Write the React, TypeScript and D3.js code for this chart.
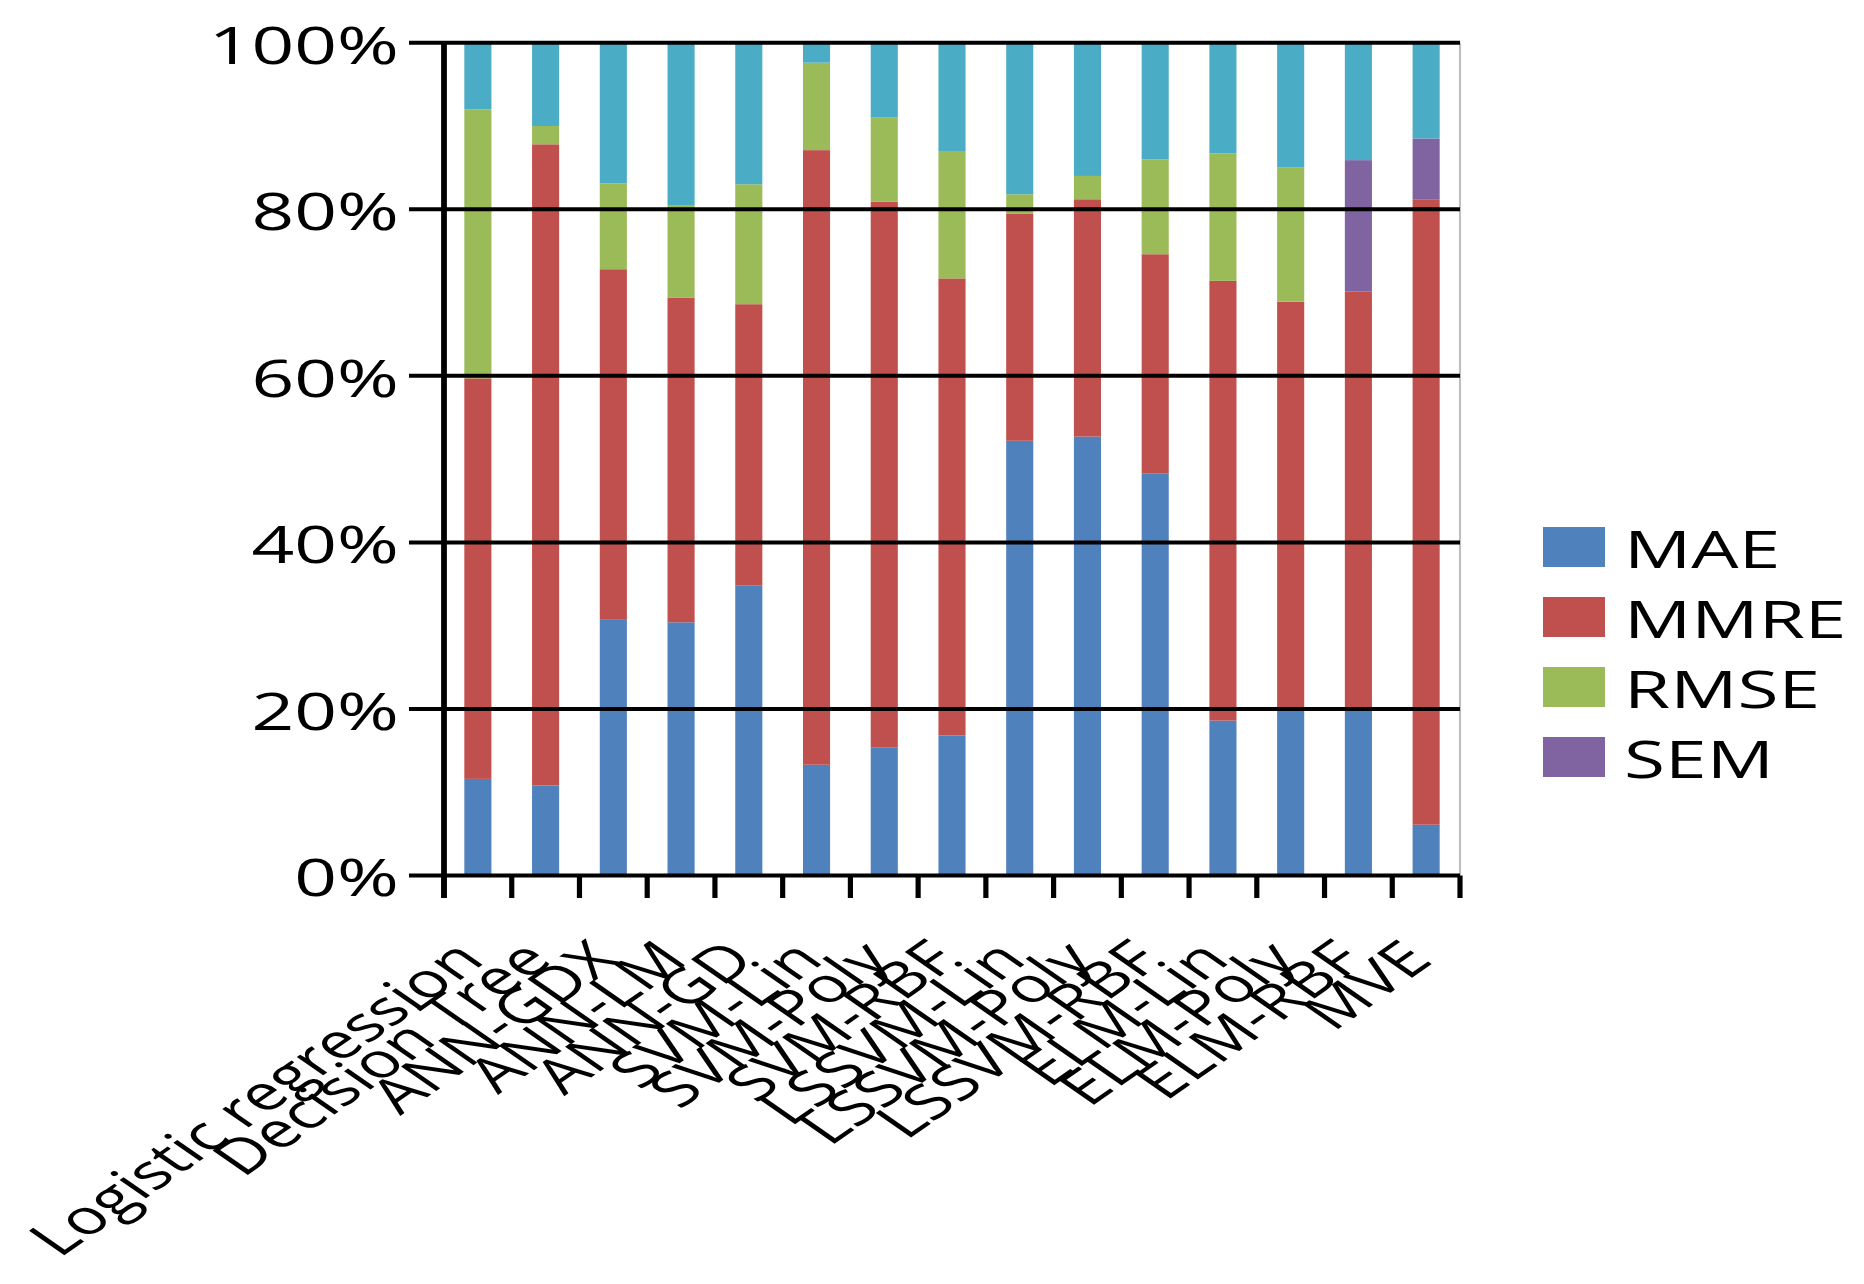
import React from "react";
import * as d3 from "d3";

const categories = [
  "Logistic regression",
  "Decision Tree",
  "ANN-GDX",
  "ANN-LM",
  "ANN-GD",
  "SVM-Lin",
  "SVM-Poly",
  "SVM-RBF",
  "LSSVM-Lin",
  "LSSVM-Poly",
  "LSSVM-RBF",
  "ELM-Lin",
  "ELM-Poly",
  "ELM-RBF",
  "MVE",
];

const maeValues = [11.6, 10.8, 30.7, 30.4, 34.8, 13.3, 15.4, 16.8, 52.2, 52.7, 48.3, 18.6, 19.8, 19.8, 6.1];
const mmreValues = [48.1, 77.0, 42.1, 39.0, 33.8, 73.8, 65.5, 54.9, 27.3, 28.5, 26.3, 52.8, 49.1, 50.3, 75.1];
const rmseValues = [32.3, 2.2, 10.3, 11.1, 14.4, 10.5, 10.1, 15.3, 2.3, 2.8, 11.4, 15.3, 16.1, 0, 0];
const semValues = [0, 0, 0, 0, 0, 0, 0, 0, 0, 0, 0, 0, 0, 15.8, 7.3];
// fifth series (its legend entry is not shown in the figure)
const restValues = [8.0, 10.0, 16.9, 19.5, 17.0, 2.4, 9.0, 13.0, 18.2, 16.0, 14.0, 13.3, 15.0, 14.1, 11.5];

const seriesKeys = ["MAE", "MMRE", "RMSE", "SEM", "rest"];
const legendKeys = ["MAE", "MMRE", "RMSE", "SEM"];
const yTicks = [0, 0.2, 0.4, 0.6, 0.8, 1];

const colors: Record<string, string> = {
  MAE: "#4F81BD",
  MMRE: "#C0504D",
  RMSE: "#9BBB59",
  SEM: "#8064A2",
  rest: "#4BACC6",
};

// the figure is stretched horizontally
const SX = 1.44;
const W = 1864;
const H = 1284;
const VW = W / SX;

const left = 444 / SX;
const right = 1460 / SX;
const top = 42.7;
const bottom = 875.5;
const font = "'Open Sans', sans-serif";

export default function App() {
  const rows = categories.map((name, i) => ({
    name,
    MAE: maeValues[i],
    MMRE: mmreValues[i],
    RMSE: rmseValues[i],
    SEM: semValues[i],
    rest: restValues[i],
  }));

  const stacked = d3
    .stack<any>()
    .keys(seriesKeys)
    .offset(d3.stackOffsetExpand)(rows);

  const x = d3.scaleBand().domain(categories).range([left, right]).padding(0);
  const y = d3.scaleLinear().domain([0, 1]).range([bottom, top]);
  const barW = x.bandwidth() * 0.4;
  const fmt = d3.format(".0%");

  const tickXs = [...categories.map((c) => x(c)!), right];

  return (
    <svg
      width={W}
      height={H}
      viewBox={`0 0 ${VW} ${H}`}
      preserveAspectRatio="none"
      style={{ position: "absolute", left: 0, top: 0, background: "#fff" }}
    >
      {/* plot border on the right */}
      <line x1={right} x2={right} y1={top} y2={bottom} stroke="#bfbfbf" strokeWidth={1.5} />

      {/* bars */}
      {stacked.map((s) => (
        <g key={s.key} fill={colors[s.key]}>
          {s.map((d, i) => (
            <rect
              key={i}
              x={x(categories[i])! + (x.bandwidth() - barW) / 2}
              y={y(d[1])}
              width={barW}
              height={Math.max(0, y(d[0]) - y(d[1]))}
            />
          ))}
        </g>
      ))}

      {/* gridlines and y ticks */}
      {yTicks.map((t) => (
        <g key={t}>
          <line x1={409 / SX} x2={right} y1={y(t)} y2={y(t)} stroke="#000" strokeWidth={4} />
          <text
            x={399 / SX}
            y={y(t) + 21}
            textAnchor="end"
            fontFamily={font}
            fontSize={52}
            fill="#000"
          >
            {fmt(t)}
          </text>
        </g>
      ))}

      {/* y axis */}
      <line x1={left} x2={left} y1={top} y2={898} stroke="#000" strokeWidth={4} />

      {/* x ticks */}
      {tickXs.map((tx, i) => (
        <line key={i} x1={tx} x2={tx} y1={bottom} y2={898} stroke="#000" strokeWidth={3.6} />
      ))}

      {/* category labels */}
      {categories.map((c) => (
        <text
          key={c}
          transform={`translate(${x(c)! + x.bandwidth() / 2 + 6},962) rotate(-45)`}
          textAnchor="end"
          fontFamily={font}
          fontSize={48.5}
          fill="#000"
        >
          {c}
        </text>
      ))}

      {/* legend */}
      {legendKeys.map((k, i) => (
        <g key={k} transform={`translate(${1543 / SX},${527 + i * 70})`}>
          <rect width={62 / SX} height={40} fill={colors[k]} />
          <text x={(1624 - 1543) / SX} y={41} fontFamily={font} fontSize={52} fill="#000">
            {k}
          </text>
        </g>
      ))}
    </svg>
  );
}
